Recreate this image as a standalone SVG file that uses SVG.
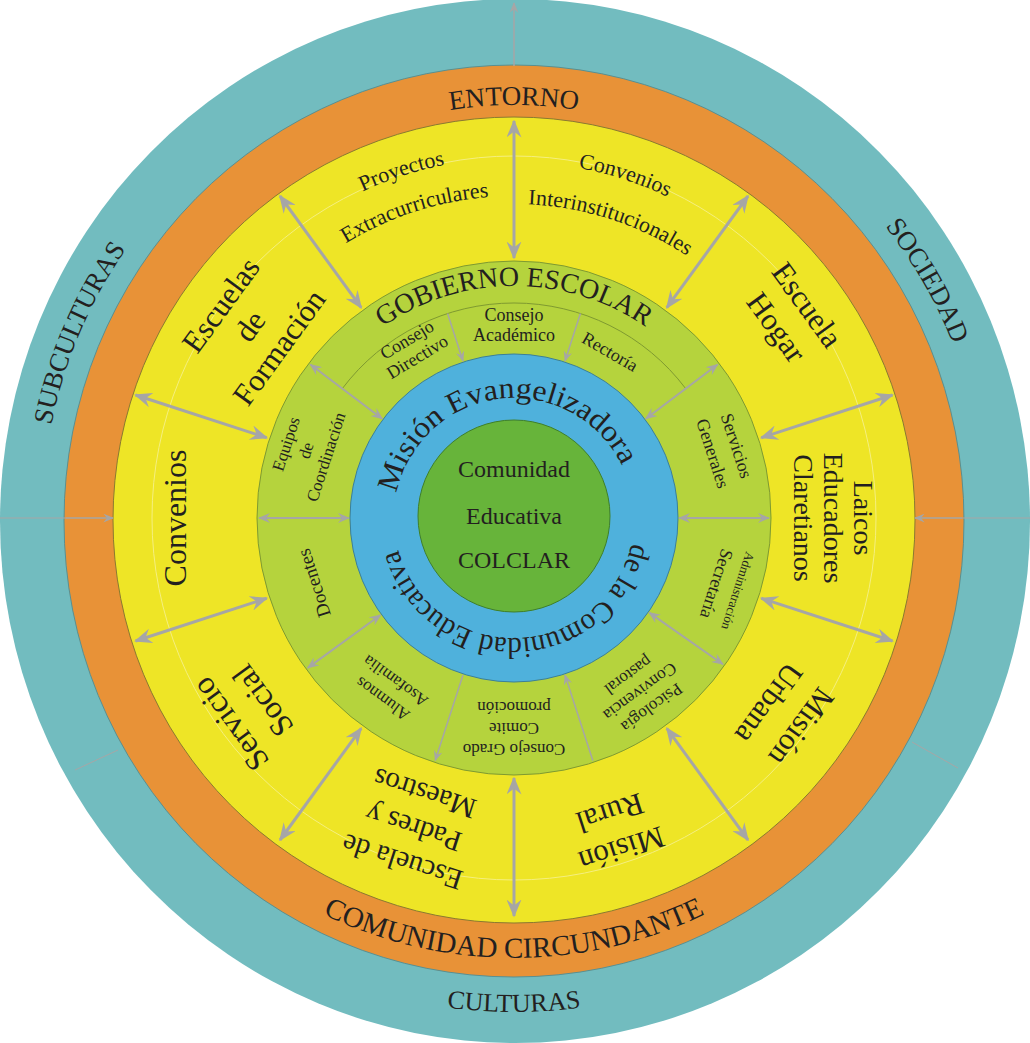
<svg xmlns="http://www.w3.org/2000/svg" xmlns:xlink="http://www.w3.org/1999/xlink" width="1030" height="1043" viewBox="0 0 1030 1043">
<style>
.t{fill:#231f20;font-family:"Liberation Serif","DejaVu Serif",serif;text-anchor:middle}
.a{stroke:#a6a6a6;stroke-width:3;fill:none;marker-start:url(#ah);marker-end:url(#ah)}
.s{stroke:#a6a6a6;stroke-width:1.5;fill:none;marker-end:url(#sh)}
.l{stroke:#a6a6a6;stroke-width:1;fill:none}
</style>
<defs>
<marker id="ah" viewBox="0 0 12 10" refX="11" refY="5" markerWidth="6" markerHeight="5" orient="auto-start-reverse" markerUnits="strokeWidth"><path d="M0,0 L12,5 L0,10 L4,5 z" fill="#a6a6a6"/></marker>
<marker id="sh" viewBox="0 0 12 10" refX="11" refY="5" markerWidth="7" markerHeight="6" orient="auto" markerUnits="strokeWidth"><path d="M0,0 L12,5 L0,10 L4,5 z" fill="#a6a6a6"/></marker>
<path id="pEnt" d="M101,518 A413,413 0 0 1 927,518"/>
<path id="pPro" d="M154,518 A360,360 0 0 1 874,518"/>
<path id="pExt" d="M192,518 A322,322 0 0 1 836,518"/>
<path id="pCon" d="M158,518 A356,356 0 0 1 870,518"/>
<path id="pInt" d="M200,518 A314,314 0 0 1 828,518"/>
<path id="pGob" d="M282,518 A232,232 0 0 1 746,518"/>
<path id="pCom" d="M74,518 A440,440 0 0 0 954,518"/>
<path id="pCul" d="M20,518 A494,494 0 0 0 1008,518"/>
<path id="pOut" d="M514,990 A472,472 0 1 1 514,46 A472,472 0 1 1 514,990"/>
<path id="pMis" d="M395.8,497.2 A120,120 0 1 1 632.2,538.8 A120,120 0 1 1 395.8,497.2"/>
</defs>

<g id="rings">
<ellipse cx="515" cy="521" rx="515" ry="522" fill="#72bcbf"/>
<ellipse cx="514" cy="521" rx="450" ry="456" fill="#e89237" stroke="#5a8f90" stroke-width="1"/>
<ellipse cx="514" cy="520" rx="401" ry="403" fill="#eee526" stroke="#8a7a30" stroke-width="1"/>
<circle cx="514" cy="518" r="362" fill="none" stroke="#f5ef80" stroke-width="1"/>
<circle cx="514" cy="518" r="257" fill="#b5d33d" stroke="#7f9a30" stroke-width="1"/>
<path d="M342.3,388.6 A215,215 0 0 1 685.7,388.6" fill="none" stroke="#7f9a30" stroke-width="1"/>
<circle cx="514" cy="518" r="164" fill="#4fb1dc" stroke="#3a7f9a" stroke-width="1"/>
<circle cx="514" cy="516" r="96" fill="#67b43a" stroke="#3f7f2a" stroke-width="1"/>
</g>

<g id="connectors">
<line class="a" x1="514" y1="258" x2="514" y2="121"/>
<line class="a" x1="666.8" y1="307.7" x2="748" y2="196"/>
<line class="a" x1="761.3" y1="437.7" x2="892.5" y2="395"/>
<line class="a" x1="761.3" y1="598.3" x2="892.5" y2="641"/>
<line class="a" x1="666.8" y1="728.3" x2="748" y2="840"/>
<line class="a" x1="514" y1="778" x2="514" y2="916"/>
<line class="a" x1="361.2" y1="728.3" x2="280" y2="840"/>
<line class="a" x1="266.7" y1="598.3" x2="135.5" y2="641"/>
<line class="a" x1="266.7" y1="437.7" x2="135.5" y2="395"/>
<line class="a" x1="361.2" y1="307.7" x2="280" y2="196"/>
<line class="a" style="stroke-width:2" x1="382.2" y1="418.7" x2="310.4" y2="364.5"/>
<line class="a" style="stroke-width:2" x1="645.8" y1="418.7" x2="717.6" y2="364.5"/>
<line class="a" style="stroke-width:2" x1="679" y1="518" x2="769" y2="518"/>
<line class="a" style="stroke-width:2" x1="649.2" y1="612.6" x2="722.9" y2="664.3"/>
<line class="a" style="stroke-width:2" x1="380.5" y1="615" x2="307.7" y2="667.9"/>
<line class="a" style="stroke-width:2" x1="349" y1="518" x2="259" y2="518"/>
<line class="s" x1="592.8" y1="760.5" x2="565" y2="675"/>
<line class="s" x1="463" y1="675" x2="435.2" y2="760.5"/>
<line class="s" x1="447.6" y1="313.5" x2="463" y2="361"/>
<line class="s" x1="580.4" y1="313.5" x2="565" y2="361"/>
<line class="s" x1="514" y1="66" x2="514" y2="3"/>
<line class="s" x1="66" y1="518" x2="113" y2="518"/>
<line class="l" x1="0" y1="518" x2="66" y2="518"/>
<line class="s" x1="962" y1="518" x2="915" y2="518"/>
<line class="l" x1="1030" y1="518" x2="962" y2="518"/>
<line class="l" x1="75" y1="770" x2="118" y2="750"/>
<line class="l" x1="912" y1="742" x2="958" y2="768"/>
</g>

<g id="outer-labels">
<text class="t" font-size="27"><textPath xlink:href="#pEnt" href="#pEnt" startOffset="50%">ENTORNO</textPath></text>
<text class="t" font-size="29"><textPath xlink:href="#pCom" href="#pCom" startOffset="50%">COMUNIDAD CIRCUNDANTE</textPath></text>
<text class="t" font-size="26"><textPath xlink:href="#pCul" href="#pCul" startOffset="50%">CULTURAS</textPath></text>
<text class="t" font-size="27"><textPath xlink:href="#pOut" href="#pOut" startOffset="31.4%">SUBCULTURAS</textPath></text>
<text class="t" font-size="27"><textPath xlink:href="#pOut" href="#pOut" startOffset="66.7%">SOCIEDAD</textPath></text>
</g>

<g id="proyectos"><text class="t" font-size="22"><textPath xlink:href="#pPro" href="#pPro" startOffset="40%">Proyectos</textPath></text><text class="t" font-size="22"><textPath xlink:href="#pExt" href="#pExt" startOffset="40%">Extracurriculares</textPath></text></g>
<g id="convenios-inter"><text class="t" font-size="22"><textPath xlink:href="#pCon" href="#pCon" startOffset="60%">Convenios</textPath></text><text class="t" font-size="22"><textPath xlink:href="#pInt" href="#pInt" startOffset="60%">Interinstitucionales</textPath></text></g>

<g id="escuela-hogar" transform="translate(514,518) rotate(54)"><text class="t" font-size="31" y="-352">Escuela</text><text class="t" font-size="31" y="-314">Hogar</text></g>
<g id="laicos" transform="translate(514,518) rotate(90)"><text class="t" font-size="28" y="-340">Laicos</text><text class="t" font-size="28" y="-310">Educadores</text><text class="t" font-size="28" y="-280">Claretianos</text></g>
<g id="mision-urbana" transform="translate(514,518) rotate(126)"><text class="t" font-size="31" y="-345">Misión</text><text class="t" font-size="31" y="-305">Urbana</text></g>
<g id="mision-rural" transform="translate(514,518) rotate(162)"><text class="t" font-size="31" y="-338">Misión</text><text class="t" font-size="31" y="-300">Rural</text></g>
<g id="escuela-padres" transform="translate(514,518) rotate(198)"><text class="t" font-size="29" y="-352">Escuela de</text><text class="t" font-size="29" y="-316">Padres y</text><text class="t" font-size="29" y="-280">Maestros</text></g>
<g id="servicio-social" transform="translate(514,518) rotate(234)"><text class="t" font-size="32" y="-340">Servicio</text><text class="t" font-size="32" y="-300">Social</text></g>
<g id="convenios" transform="translate(514,518) rotate(270)"><text class="t" font-size="32" y="-328">Convenios</text></g>
<g id="escuelas-formacion" transform="translate(514,518) rotate(306)"><text class="t" font-size="31" y="-352">Escuelas</text><text class="t" font-size="31" y="-316">de</text><text class="t" font-size="31" y="-280">Formación</text></g>

<g id="gobierno"><text class="t" font-size="28"><textPath xlink:href="#pGob" href="#pGob" startOffset="50%">GOBIERNO ESCOLAR</textPath></text></g>
<g id="consejo-directivo" transform="translate(514,518) rotate(329)"><text class="t" font-size="18" y="-202">Consejo</text><text class="t" font-size="18" y="-182">Directivo</text></g>
<g id="consejo-academico" transform="translate(514,518)"><text class="t" font-size="18" y="-197">Consejo</text><text class="t" font-size="18" y="-177">Académico</text></g>
<g id="rectoria" transform="translate(514,518) rotate(30)"><text class="t" font-size="18" y="-186">Rectoría</text></g>
<g id="servicios-generales" transform="translate(514,518) rotate(72)"><text class="t" font-size="18" y="-228">Servicios</text><text class="t" font-size="18" y="-203">Generales</text></g>
<g id="administracion" transform="translate(514,518) rotate(108)"><text class="t" font-size="13" y="-231">Administración</text><text class="t" font-size="18" y="-207">Secretaría</text></g>
<g id="psicologia" transform="translate(514,518) rotate(144)"><text class="t" font-size="17" y="-229">Psicología</text><text class="t" font-size="17" y="-209">Convivencia</text><text class="t" font-size="17" y="-189">pastoral</text></g>
<g id="consejo-grado" transform="translate(514,518) rotate(180)"><text class="t" font-size="17" y="-226">Consejo Grado</text><text class="t" font-size="17" y="-205">Comite</text><text class="t" font-size="17" y="-184">promoción</text></g>
<g id="alumnos" transform="translate(514,518) rotate(216)"><text class="t" font-size="17" y="-218">Alumnos</text><text class="t" font-size="17" y="-196">Asofamilia</text></g>
<g id="docentes" transform="translate(514,518) rotate(252)"><text class="t" font-size="19" y="-204">Docentes</text></g>
<g id="equipos" transform="translate(514,518) rotate(288)"><text class="t" font-size="17" y="-234">Equipos</text><text class="t" font-size="17" y="-213">de</text><text class="t" font-size="17" y="-192">Coordinación</text></g>

<g id="mision"><text class="t" font-size="30" style="text-anchor:start"><textPath xlink:href="#pMis" href="#pMis" startOffset="4" textLength="298" lengthAdjust="spacingAndGlyphs">Misión Evangelizadora</textPath></text><text class="t" font-size="30" style="text-anchor:start"><textPath xlink:href="#pMis" href="#pMis" startOffset="381" textLength="320" lengthAdjust="spacingAndGlyphs">de la Comunidad Educativa</textPath></text></g>

<g id="centro"><text class="t" font-size="24" x="514" y="477">Comunidad</text><text class="t" font-size="24" x="514" y="524">Educativa</text><text class="t" font-size="24" x="514" y="568">COLCLAR</text></g>
</svg>
